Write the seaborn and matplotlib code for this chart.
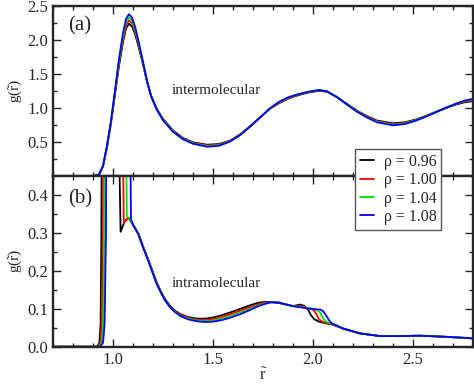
import numpy as np
import pandas as pd
import matplotlib
matplotlib.use("Agg")
import matplotlib.pyplot as plt
from matplotlib.ticker import MultipleLocator
import seaborn as sns

# ---------------- data ----------------
densities = ["0.96", "1.00", "1.04", "1.08"]
colors = ["#000000", "#ff0000", "#00e000", "#0000ff"]

# intermolecular g(r) (panel a)
r_inter = [0.70, 0.90, 0.93, 0.95, 0.97, 0.99, 1.01, 1.03, 1.05, 1.065, 1.08, 1.095,
           1.11, 1.13, 1.15, 1.17, 1.19, 1.22, 1.25, 1.30, 1.35, 1.40, 1.47, 1.53,
           1.585, 1.635, 1.685, 1.735, 1.785, 1.83, 1.87, 1.90, 1.935, 1.98, 2.03,
           2.07, 2.12, 2.17, 2.22, 2.27, 2.32, 2.40, 2.46, 2.52, 2.57, 2.62, 2.67,
           2.72, 2.76, 2.80]
g_inter_096 = [0, 0, 0.02, 0.14, 0.42, 0.78, 1.20, 1.62, 1.97, 2.17, 2.24, 2.20,
               2.09, 1.88, 1.64, 1.39, 1.18, 0.98, 0.84, 0.67, 0.56, 0.495, 0.46, 0.47,
               0.52, 0.61, 0.73, 0.86, 0.99, 1.07, 1.13, 1.165, 1.195, 1.23, 1.252,
               1.24, 1.16, 1.06, 0.96, 0.88, 0.815, 0.775, 0.79, 0.835, 0.89, 0.95,
               1.005, 1.055, 1.085, 1.10]
g_inter_100 = [0, 0, 0.02, 0.14, 0.43, 0.79, 1.22, 1.66, 2.01, 2.22, 2.29, 2.25,
               2.13, 1.90, 1.65, 1.39, 1.18, 0.975, 0.835, 0.665, 0.553, 0.488, 0.45, 0.46,
               0.515, 0.607, 0.728, 0.86, 0.993, 1.077, 1.137, 1.172, 1.202, 1.235, 1.258,
               1.242, 1.16, 1.055, 0.955, 0.873, 0.805, 0.763, 0.781, 0.831, 0.888, 0.949,
               1.008, 1.062, 1.095, 1.113]
g_inter_104 = [0, 0, 0.02, 0.15, 0.44, 0.80, 1.24, 1.69, 2.06, 2.27, 2.33, 2.29,
               2.16, 1.93, 1.67, 1.40, 1.18, 0.972, 0.828, 0.658, 0.546, 0.481, 0.44, 0.452,
               0.51, 0.603, 0.726, 0.86, 0.995, 1.084, 1.144, 1.176, 1.206, 1.238, 1.262,
               1.244, 1.16, 1.052, 0.95, 0.866, 0.797, 0.754, 0.773, 0.826, 0.885, 0.948,
               1.01, 1.067, 1.104, 1.125]
g_inter_108 = [0, 0, 0.02, 0.15, 0.45, 0.81, 1.26, 1.72, 2.10, 2.31, 2.38, 2.33,
               2.20, 1.95, 1.68, 1.40, 1.18, 0.97, 0.82, 0.65, 0.54, 0.475, 0.43, 0.445,
               0.505, 0.60, 0.725, 0.86, 0.995, 1.09, 1.15, 1.18, 1.21, 1.24, 1.265,
               1.245, 1.16, 1.05, 0.945, 0.86, 0.79, 0.745, 0.765, 0.82, 0.88, 0.945,
               1.01, 1.07, 1.11, 1.135]

# intramolecular g(r) (panel b)
r_intra_096 = [0.70, 0.92, 0.932, 0.938, 0.942, 0.948, 0.99, 1.020, 1.028, 1.038, 1.058,
               1.077, 1.10, 1.127, 1.15, 1.177, 1.20, 1.218, 1.24, 1.26, 1.285, 1.31,
               1.34, 1.377, 1.42, 1.46, 1.50, 1.543, 1.59, 1.643, 1.69, 1.727, 1.76,
               1.79, 1.83, 1.868, 1.90, 1.935, 1.955, 1.975, 1.99, 2.005, 2.03, 2.06,
               2.093, 2.15, 2.235, 2.335, 2.435, 2.535, 2.668, 2.80]
g_intra_096 = [0, 0, 0.01, 0.06, 0.3, 1.5, 4.0, 1.5, 0.6, 0.303, 0.33,
               0.34, 0.322, 0.298, 0.265, 0.228, 0.196, 0.170, 0.145, 0.126, 0.108, 0.095,
               0.085, 0.078, 0.074, 0.074, 0.077, 0.083, 0.091, 0.101, 0.110, 0.116, 0.118,
               0.118, 0.115, 0.111, 0.107, 0.111, 0.108, 0.098, 0.083, 0.073, 0.066, 0.062,
               0.059, 0.048, 0.035, 0.028, 0.028, 0.029, 0.026, 0.022]
r_intra_100 = [0.70, 0.925, 0.937, 0.944, 0.949, 0.955, 1.00, 1.042, 1.048, 1.054, 1.066,
               1.08, 1.10, 1.127, 1.15, 1.177, 1.20, 1.218, 1.24, 1.26, 1.285, 1.31,
               1.34, 1.377, 1.42, 1.46, 1.50, 1.543, 1.59, 1.643, 1.69, 1.727, 1.76,
               1.79, 1.83, 1.868, 1.90, 1.95, 1.98, 2.00, 2.015, 2.03, 2.05, 2.093,
               2.15, 2.235, 2.335, 2.435, 2.535, 2.668, 2.80]
g_intra_100 = [0, 0, 0.01, 0.06, 0.3, 1.5, 4.0, 1.5, 0.6, 0.326, 0.335,
               0.34, 0.322, 0.297, 0.264, 0.227, 0.194, 0.168, 0.144, 0.124, 0.106, 0.093,
               0.083, 0.076, 0.071, 0.070, 0.073, 0.078, 0.086, 0.096, 0.105, 0.112, 0.116,
               0.118, 0.116, 0.111, 0.107, 0.106, 0.101, 0.098, 0.088, 0.072, 0.065, 0.060,
               0.048, 0.035, 0.028, 0.028, 0.029, 0.026, 0.022]
r_intra_104 = [0.70, 0.93, 0.943, 0.951, 0.957, 0.964, 1.02, 1.060, 1.065, 1.069, 1.08,
               1.10, 1.127, 1.15, 1.177, 1.20, 1.218, 1.24, 1.26, 1.285, 1.31,
               1.34, 1.377, 1.42, 1.46, 1.50, 1.543, 1.59, 1.643, 1.69, 1.727, 1.76,
               1.79, 1.83, 1.868, 1.90, 1.935, 1.97, 2.00, 2.02, 2.035, 2.05, 2.065,
               2.093, 2.15, 2.235, 2.335, 2.435, 2.535, 2.668, 2.80]
g_intra_104 = [0, 0, 0.01, 0.06, 0.3, 1.5, 4.0, 1.5, 0.6, 0.344, 0.338,
               0.321, 0.297, 0.263, 0.227, 0.193, 0.167, 0.143, 0.123, 0.105, 0.092,
               0.081, 0.074, 0.069, 0.067, 0.069, 0.074, 0.081, 0.091, 0.101, 0.109, 0.114,
               0.117, 0.117, 0.111, 0.107, 0.105, 0.102, 0.100, 0.097, 0.090, 0.075, 0.066,
               0.061, 0.048, 0.035, 0.028, 0.028, 0.029, 0.026, 0.022]
r_intra_108 = [0.70, 0.935, 0.95, 0.958, 0.965, 0.972, 1.03, 1.08, 1.085, 1.09, 1.10,
               1.127, 1.15, 1.177, 1.20, 1.218, 1.24, 1.26, 1.285, 1.31, 1.34, 1.377,
               1.42, 1.46, 1.50, 1.543, 1.59, 1.643, 1.69, 1.727, 1.76, 1.79, 1.83,
               1.868, 1.90, 1.935, 1.97, 2.00, 2.035, 2.05, 2.065, 2.08, 2.093, 2.15,
               2.235, 2.335, 2.435, 2.535, 2.668, 2.80]
g_intra_108 = [0, 0, 0.01, 0.06, 0.3, 1.5, 4.0, 1.5, 0.6, 0.335, 0.322,
               0.296, 0.262, 0.226, 0.192, 0.166, 0.142, 0.122, 0.104, 0.091, 0.080, 0.072,
               0.067, 0.065, 0.066, 0.070, 0.077, 0.087, 0.098, 0.107, 0.113, 0.117, 0.116,
               0.111, 0.107, 0.104, 0.101, 0.099, 0.098, 0.094, 0.083, 0.070, 0.062, 0.048,
               0.035, 0.028, 0.028, 0.029, 0.026, 0.022]

# ---------------- frames ----------------
labels = [f"ρ = {d}" for d in densities]
inter_series = [g_inter_096, g_inter_100, g_inter_104, g_inter_108]
intra_series = [(r_intra_096, g_intra_096), (r_intra_100, g_intra_100),
                (r_intra_104, g_intra_104), (r_intra_108, g_intra_108)]

df_inter = pd.concat([pd.DataFrame({"r": r_inter, "g": g, "rho": lab})
                      for g, lab in zip(inter_series, labels)], ignore_index=True)
df_intra = pd.concat([pd.DataFrame({"r": r, "g": g, "rho": lab})
                      for (r, g), lab in zip(intra_series, labels)], ignore_index=True)
palette = dict(zip(labels, colors))

# ---------------- style ----------------
sns.set_style("ticks")
plt.rcParams["font.family"] = ["Liberation Serif", "DejaVu Serif"]
plt.rcParams["mathtext.fontset"] = "custom"
plt.rcParams["mathtext.rm"] = "Liberation Serif"
plt.rcParams["mathtext.it"] = "Liberation Serif:italic"
plt.rcParams["axes.linewidth"] = 1.7
plt.rcParams["xtick.direction"] = "in"
plt.rcParams["ytick.direction"] = "in"

fig = plt.figure(figsize=(4.74, 3.84), dpi=100)
L, R = 53 / 474, 473 / 474
ax1 = fig.add_axes([L, 1 - 176 / 384, R - L, (176 - 6) / 384])
ax2 = fig.add_axes([L, 1 - 346.7 / 384, R - L, (346.7 - 176) / 384])

sns.lineplot(data=df_inter, x="r", y="g", hue="rho", hue_order=labels, palette=palette,
             estimator=None, sort=False, linewidth=1.3, legend=False, ax=ax1)
sns.lineplot(data=df_intra, x="r", y="g", hue="rho", hue_order=labels, palette=palette,
             estimator=None, sort=False, linewidth=1.3, legend=True, ax=ax2)

handles, labs = ax2.get_legend_handles_labels()
ax2.get_legend().remove()

for ax in (ax1, ax2):
    ax.set_xlim(0.7, 2.8)
    ax.xaxis.set_major_locator(MultipleLocator(0.5))
    ax.xaxis.set_minor_locator(MultipleLocator(0.1))
    ax.tick_params(which="both", top=True, right=True, direction="in", width=1.0,
                   labelsize=12)
    ax.tick_params(which="major", length=6)
    ax.tick_params(which="minor", length=3)
    ax.set_xlabel("")
    ax.set_ylabel("g($\\tilde{\\mathrm{r}}$)", fontsize=11)
    ax.yaxis.set_label_coords(-0.068, 0.5)

ax1.set_ylim(0, 2.5)
ax1.set_yticks([0.5, 1.0, 1.5, 2.0, 2.5])
ax1.yaxis.set_minor_locator(MultipleLocator(0.25))
ax1.tick_params(labelbottom=False)

ax2.set_ylim(0, 0.45)
ax2.set_yticks([0.0, 0.1, 0.2, 0.3, 0.4])
ax2.yaxis.set_minor_locator(MultipleLocator(0.05))
ax2.set_xlabel("$\\tilde{\\mathrm{r}}$", fontsize=12, labelpad=0)

ax1.text(0.037, 0.885, "(a)", transform=ax1.transAxes, fontsize=15, va="center")
ax2.text(0.037, 0.865, "(b)", transform=ax2.transAxes, fontsize=15, va="center")
ax1.text(0.283, 0.50, "intermolecular", transform=ax1.transAxes, fontsize=11, va="center")
ax2.text(0.283, 0.37, "intramolecular", transform=ax2.transAxes, fontsize=11, va="center")

fig.legend(handles, labs, loc="upper left", bbox_to_anchor=(355 / 474, 1 - 149 / 384),
           borderaxespad=0, fontsize=11.5, frameon=True, fancybox=False,
           edgecolor="#555555", framealpha=1, handlelength=0.9, handletextpad=0.6,
           labelspacing=0.15, borderpad=0.3)

fig.savefig("out.png", dpi=100)
